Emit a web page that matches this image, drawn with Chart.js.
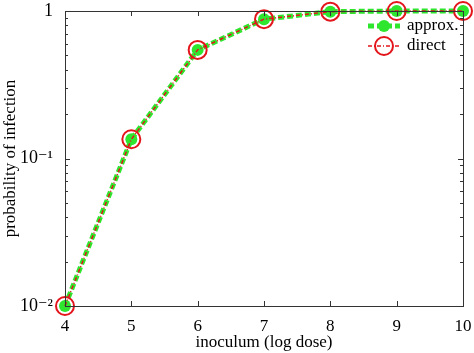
<!DOCTYPE html>
<html>
<head>
<meta charset="utf-8">
<script src="https://cdn.jsdelivr.net/npm/chart.js@4"></script>
<style>
  html, body { margin: 0; padding: 0; background: #fff; overflow: hidden; }
  canvas { display: block; }
</style>
</head>
<body>
<canvas id="chart" width="474" height="353"></canvas>
<script>
// --- datos ---
const dosis = [4, 5, 6, 7, 8, 9, 10];
const approx = [0.01, 0.135, 0.545, 0.88, 0.99, 1.0, 1.0];
const direct = [0.01, 0.135, 0.545, 0.88, 0.99, 1.0, 1.0];
const yMayores = [0.01, 0.1, 1];
const yEtiquetas = { 0.01: "10\u207B\u00B2", 0.1: "10\u207B\u00B9", 1: "1" };

const VERDE = "#2ee62e";
const ROJO = "#e3141a";
const FUENTE = "'Liberation Serif', 'DejaVu Serif', serif";

// marcas hacia dentro y marco tipo MATLAB
const marco = {
  id: "marco",
  afterDraw(chart) {
    const { ctx, chartArea: a, scales: { x, y } } = chart;
    ctx.save();
    ctx.strokeStyle = "#333";
    ctx.lineWidth = 1;
    ctx.beginPath();
    for (let v of dosis) {
      const px = Math.round(x.getPixelForValue(v)) + 0.5;
      ctx.moveTo(px, a.bottom); ctx.lineTo(px, a.bottom - 5);
      ctx.moveTo(px, a.top); ctx.lineTo(px, a.top + 5);
    }
    for (let d of [0.01, 0.1]) {
      for (let k = 1; k <= 10; k++) {
        const v = d * k;
        const py = Math.round(y.getPixelForValue(v)) + 0.5;
        const len = (k === 1 || k === 10) ? 5 : 3;
        ctx.moveTo(a.left, py); ctx.lineTo(a.left + len, py);
        ctx.moveTo(a.right, py); ctx.lineTo(a.right - len, py);
      }
    }
    ctx.stroke();
    ctx.strokeRect(Math.round(a.left) + 0.5, Math.round(a.top) + 0.5,
      Math.round(a.right - a.left), Math.round(a.bottom - a.top));

    // leyenda
    ctx.font = "17px " + FUENTE;
    ctx.textBaseline = "middle";
    ctx.fillStyle = "#000";
    // approx.
    let ly = 26;
    ctx.strokeStyle = VERDE;
    ctx.lineWidth = 5;
    ctx.setLineDash([6, 3]);
    ctx.beginPath(); ctx.moveTo(368, ly); ctx.lineTo(400, ly); ctx.stroke();
    ctx.setLineDash([]);
    ctx.fillStyle = VERDE;
    ctx.beginPath(); ctx.arc(384, ly, 6, 0, Math.PI * 2); ctx.fill();
    ctx.fillStyle = "#000";
    ctx.fillText("approx.", 407, ly);
    // direct
    ly = 46;
    ctx.strokeStyle = ROJO;
    ctx.lineWidth = 1.5;
    ctx.setLineDash([4, 2, 1, 2]);
    ctx.beginPath(); ctx.moveTo(368, ly); ctx.lineTo(400, ly); ctx.stroke();
    ctx.setLineDash([]);
    ctx.lineWidth = 2;
    ctx.beginPath(); ctx.arc(384, ly, 9, 0, Math.PI * 2); ctx.stroke();
    ctx.fillText("direct", 407, ly);
    ctx.restore();
  }
};

const ctx = document.getElementById("chart").getContext("2d");
const chart = new Chart(ctx, {
  type: "line",
  data: {
    datasets: [
      {
        label: "approx.",
        data: dosis.map((d, i) => ({ x: d, y: approx[i] })),
        borderColor: VERDE,
        backgroundColor: VERDE,
        borderWidth: 5,
        borderDash: [6, 3],
        pointRadius: 6,
        pointBorderWidth: 0,
        pointBackgroundColor: VERDE,
        order: 2
      },
      {
        label: "direct",
        data: dosis.map((d, i) => ({ x: d, y: direct[i] })),
        borderColor: ROJO,
        borderWidth: 1.5,
        borderDash: [4, 2, 1, 2],
        pointRadius: 9,
        pointBorderWidth: 2,
        pointBorderColor: ROJO,
        pointBackgroundColor: "rgba(0,0,0,0)",
        order: 1
      }
    ]
  },
  options: {
    responsive: false,
    animation: false,
    events: [],
    clip: false,
    layout: { padding: { top: 7, right: 7, left: 0, bottom: 0 } },
    plugins: { legend: { display: false }, tooltip: { enabled: false } },
    scales: {
      x: {
        type: "linear",
        min: 4, max: 10,
        grid: { display: false },
        border: { display: false },
        afterBuildTicks(s) { s.ticks = dosis.map(v => ({ value: v })); },
        afterFit(s) { s.height = 47; s.paddingLeft = 0; s.paddingRight = 0; },
        ticks: { color: "#000", padding: 2, maxRotation: 0, font: { family: FUENTE, size: 17 } },
        title: { display: true, text: "inoculum (log dose)", color: "#000", padding: 0, font: { family: FUENTE, size: 17 } }
      },
      y: {
        type: "logarithmic",
        min: 0.01, max: 1,
        grid: { display: false },
        border: { display: false },
        afterBuildTicks(s) { s.ticks = yMayores.map(v => ({ value: v })); },
        afterFit(s) { s.width = 65; s.paddingTop = 0; s.paddingBottom = 0; },
        ticks: {
          color: "#000", padding: 4,
          font: { family: FUENTE, size: 18 },
          callback: v => yEtiquetas[v] || ""
        },
        title: { display: true, text: "probability of infection", color: "#000", padding: 0, font: { family: FUENTE, size: 17 } }
      }
    }
  },
  plugins: [marco]
});
</script>
</body>
</html>
